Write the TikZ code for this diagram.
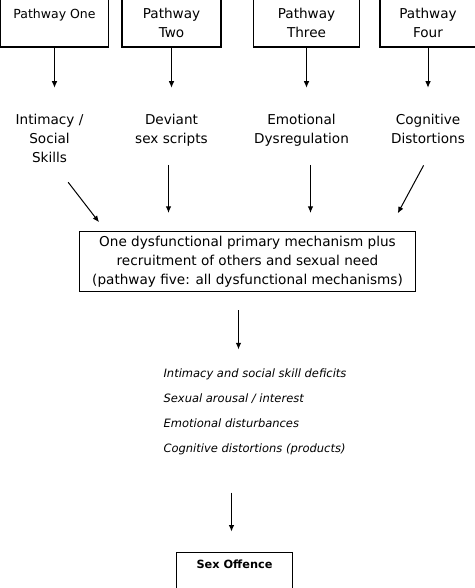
\documentclass[tikz,border=0pt]{standalone}
\usepackage{fontspec}
\setmainfont{DejaVu Sans}
\usetikzlibrary{shapes, arrows.meta, positioning}
\tikzset{%
>={Latex[width=5.5pt,length=6.5pt]},
% Specifications for style of nodes:
base/.style = {draw, line width=1.5pt, text centered},
pathway/.style = {base, rectangle, minimum height=48pt, font=\fontsize{13.6}{19}\selectfont},
factor/.style = {inner sep=0pt, font=\fontsize{13.6}{19}\selectfont},
mechanism/.style = {base, rectangle, minimum width=336pt, minimum height=60pt, inner sep=4pt, font=\fontsize{13.6}{19}\selectfont},
symptoms/.style = {inner sep=0pt, align=left, font=\fontsize{11.5}{25}\selectfont\itshape},
outcome/.style = {base, rectangle, minimum width=116pt, inner sep=8pt, text height=8.2pt, text depth=40pt, font=\fontsize{11.3}{14}\selectfont\bfseries},
}

\begin{document}
\begin{tikzpicture}[
            node distance=1cm,
            line width=1pt,
            align=center
        ]
        \useasboundingbox (0,0) rectangle (474pt,-588pt);
        % Specification of nodes (position, etc.)
        \node (pathOne) [pathway, minimum width=108pt, font=\fontsize{12.5}{19}\selectfont] at (54.5pt,-23pt) {Pathway One\\~};
        \node (pathTwo) [pathway, minimum width=99pt, right=12pt of pathOne] {Pathway\\Two};
        \node (pathThree) [pathway, minimum width=106pt, right=31pt of pathTwo] {Pathway\\Three};
        \node (pathFour) [pathway, minimum width=96pt, right=19pt of pathThree] {Pathway\\Four};
        \node (intimacy) [factor, below=66pt of pathOne, xshift=-5pt] {Intimacy /\\Social\\Skills};
        \node (scripts) [factor, below=66pt of pathTwo] {Deviant\\sex scripts};
        \node (emotion) [factor, below=66pt of pathThree, xshift=-5pt] {Emotional\\Dysregulation};
        \node (cognition) [factor, below=66pt of pathFour] {Cognitive\\Distortions};
        \node (mechanism) [mechanism, below=84pt of scripts, xshift=76pt] {One dysfunctional primary mechanism plus\\recruitment of others and sexual need\\(pathway five: all dysfunctional mechanisms)};
        \node (symptoms) [symptoms, below=76pt of mechanism, xshift=7.5pt] {Intimacy and social skill deficits\\Sexual arousal / interest\\Emotional disturbances\\Cognitive distortions (products)};
        \node (offence) [outcome, below=96pt of symptoms, xshift=-20.5pt] {Sex Offence};

        \draw [->, shorten >=26pt] (pathOne) -- (pathOne |- intimacy.north);
        \draw [->, shorten >=26pt] (pathTwo) -- (pathTwo |- scripts.north);
        \draw [->, shorten >=26pt] (pathThree) -- (pathThree |- emotion.north);
        \draw [->, shorten >=26pt] (pathFour) -- (pathFour |- cognition.north);
        \draw [->, shorten <=24pt, shorten >=11pt] ([xshift=4pt]intimacy.south) -- ([xshift=27pt]mechanism.north west);
        \draw [->, shorten <=18pt, shorten >=18pt] ([xshift=-3pt]scripts.south) -- ([xshift=-3pt]scripts.south |- mechanism.north);
        \draw [->, shorten <=18pt, shorten >=18pt] ([xshift=9pt]emotion.south) -- ([xshift=9pt]emotion.south |- mechanism.north);
        \draw [->, shorten <=24pt, shorten >=20pt] ([xshift=7pt]cognition.south) -- ([xshift=-28pt]mechanism.north east);
        \draw [->, shorten <=18pt, shorten >=19pt] ([xshift=-9pt]mechanism.south) -- ([xshift=-9pt]mechanism.south |- symptoms.north);
        \draw [->, shorten <=37pt, shorten >=20pt] ([xshift=-3pt]offence.north |- symptoms.south) -- ([xshift=-3pt]offence.north);
    \end{tikzpicture}
\end{document}
